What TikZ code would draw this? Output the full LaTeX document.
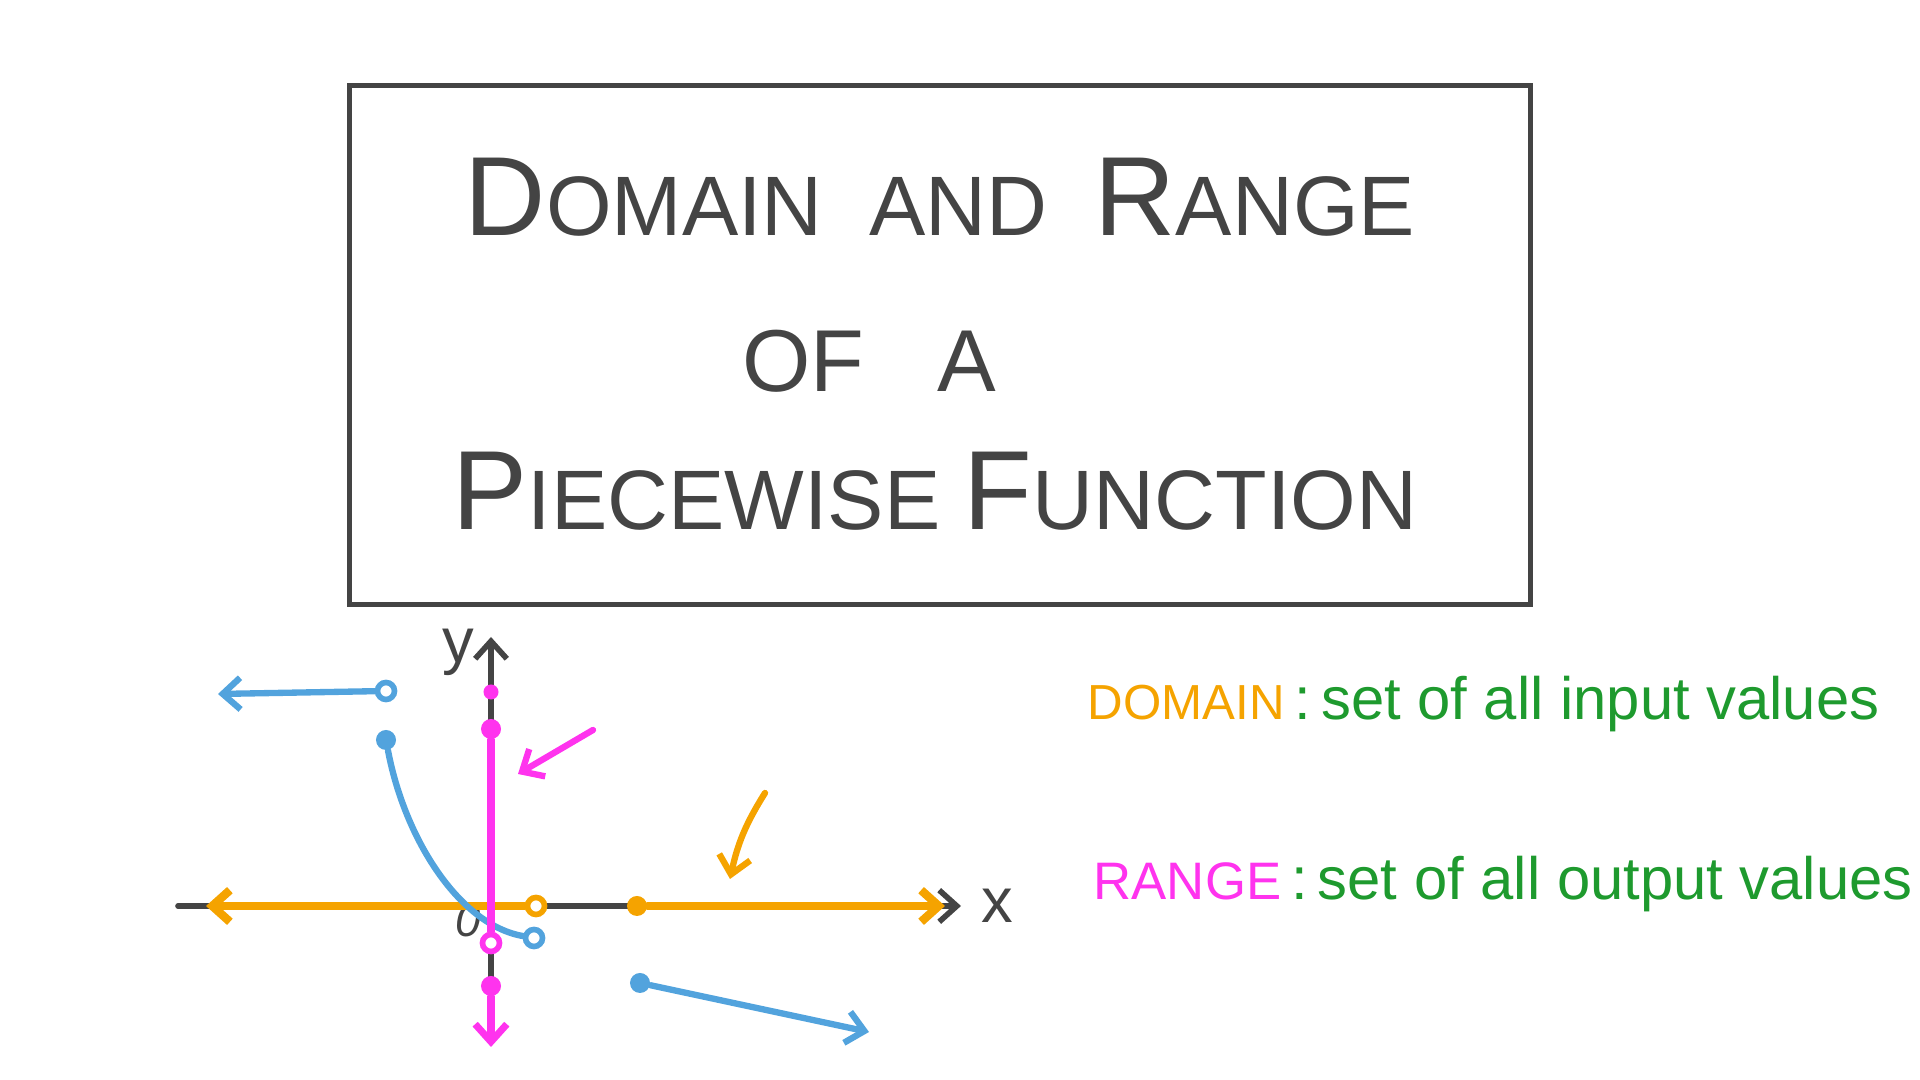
\documentclass[tikz,border=0pt]{standalone}
\usepackage{fontspec}
\setmainfont{Liberation Sans}
\usetikzlibrary{arrows.meta, positioning, calc}
\definecolor{inkgray}{HTML}{444444}
\definecolor{curveblue}{HTML}{52A3DD}
\definecolor{domorange}{HTML}{F5A300}
\definecolor{rngpink}{HTML}{FF33EE}
\definecolor{notegreen}{HTML}{1E9A2E}
\newcommand{\Bcap}[1]{{\fontsize{32}{36}\selectfont #1}}

\begin{document}
\begin{tikzpicture}[x=0.01cm, y=-0.01cm, line cap=round,
    axisline/.style={draw=inkgray, line width=1.6pt, -{Straight Barb[length=5pt, width=9pt]}},
    dompart/.style={draw=domorange, line width=2.4pt, -{Straight Barb[length=5pt, width=9pt]}},
    rngpart/.style={draw=rngpink, line width=2pt},
    piece/.style={draw=curveblue, line width=1.8pt},
    hole/.style={circle, draw=#1, line width=1.6pt, fill=white, inner sep=0pt, minimum size=0.17cm},
    fulldot/.style={circle, fill=#1, inner sep=0pt, minimum size=0.2cm},
    pointer/.style={line width=1.8pt, -{Straight Barb[length=5pt, width=9pt]}},
    heading/.style={text=inkgray, inner sep=0pt, font=\fontsize{24}{28}\selectfont},
    note/.style={anchor=base west, inner sep=0pt, font=\fontsize{17}{20}\selectfont}]

    \useasboundingbox (0,0) rectangle (1920,1080);

    \node[draw=inkgray, line width=1.5pt, minimum width=11.81cm, minimum height=5.18cm] (titlebox) at (940,345) {};
    \node[heading, anchor=base] (line1) at (940,236) {\Bcap{D}OMAIN\ \ AND\ \ \Bcap{R}ANGE};
    \node[heading, anchor=base, font=\fontsize{25}{30}\selectfont] (line2) at (869,392) {OF\ \ \ A};
    \node[heading, anchor=base] (line3) at (935,530) {\Bcap{P}IECEWISE\ \Bcap{F}UNCTION};

    \coordinate (xl) at (178,906);
    \coordinate (xr) at (961,906);
    \coordinate (yb) at (491,1040);
    \coordinate (yt) at (491,637);
    \draw[axisline] (xl) -- (xr);
    \draw[axisline] (yb) -- (yt);
    \node[text=inkgray, font=\fontsize{18}{20}\selectfont, right=0.08cm of xr] (xlab) {x};
    \node[text=inkgray, font=\fontsize{18}{20}\selectfont] (ylab) at (458,652) {y};
    \node[text=inkgray, font=\fontsize{13}{15}\selectfont\itshape] (zero) at (468,921) {0};

    \node[hole=domorange] (dhole) at (536,906) {};
    \node[fulldot=domorange] (ddot) at (637,906) {};
    \coordinate (dleft) at (206,906);
    \coordinate (dright) at (945,906);
    \draw[dompart] (dhole) -- (dleft);
    \draw[dompart] (ddot) -- (dright);

    \node[hole=curveblue] (bhole1) at (386,691) {};
    \coordinate (bleft) at (218,694);
    \draw[piece, -{Straight Barb[length=5pt, width=9pt]}] (bhole1) -- (bleft);
    \node[fulldot=curveblue] (bdot1) at (386,740) {};
    \node[hole=curveblue] (bhole2) at (534,938) {};
    \draw[piece] (bdot1) .. controls (405,840) and (460,925) .. (bhole2);
    \node[fulldot=curveblue] (bdot2) at (640,983) {};
    \coordinate (bright) at (869,1032);
    \draw[piece, -{Straight Barb[length=5pt, width=9pt]}] (bdot2) -- (bright);

    \node[fulldot=rngpink, minimum size=0.15cm] (rtop) at (491,692) {};
    \node[fulldot=rngpink] (rdot1) at (491,729) {};
    \node[hole=rngpink] (rhole) at (491,943) {};
    \node[fulldot=rngpink] (rdot2) at (491,986) {};
    \coordinate (rbottom) at (491,1047);
    \draw[rngpart] (rdot1) -- (rhole);
    \draw[rngpart, -{Straight Barb[length=5pt, width=9pt]}] (rdot2) -- (rbottom);

    \coordinate (rp1) at (593,730);
    \coordinate (rp2) at (518,774);
    \draw[pointer, rngpink] (rp1) -- (rp2);
    \coordinate (op1) at (765,793);
    \coordinate (op2) at (730,879);
    \draw[pointer, domorange] (op1) to[bend right=10] (op2);

    \node[note] (domtxt) at (1087,720) {\textcolor{domorange}{\fontsize{14}{18}\selectfont DOMAIN}\textcolor{notegreen}{\,:\,set of all input values}};
    \node[note] (rngtxt) at (1093,900) {\textcolor{rngpink}{\fontsize{15}{18}\selectfont RANGE}\textcolor{notegreen}{\,:\,set of all output values}};

\end{tikzpicture}
\end{document}
